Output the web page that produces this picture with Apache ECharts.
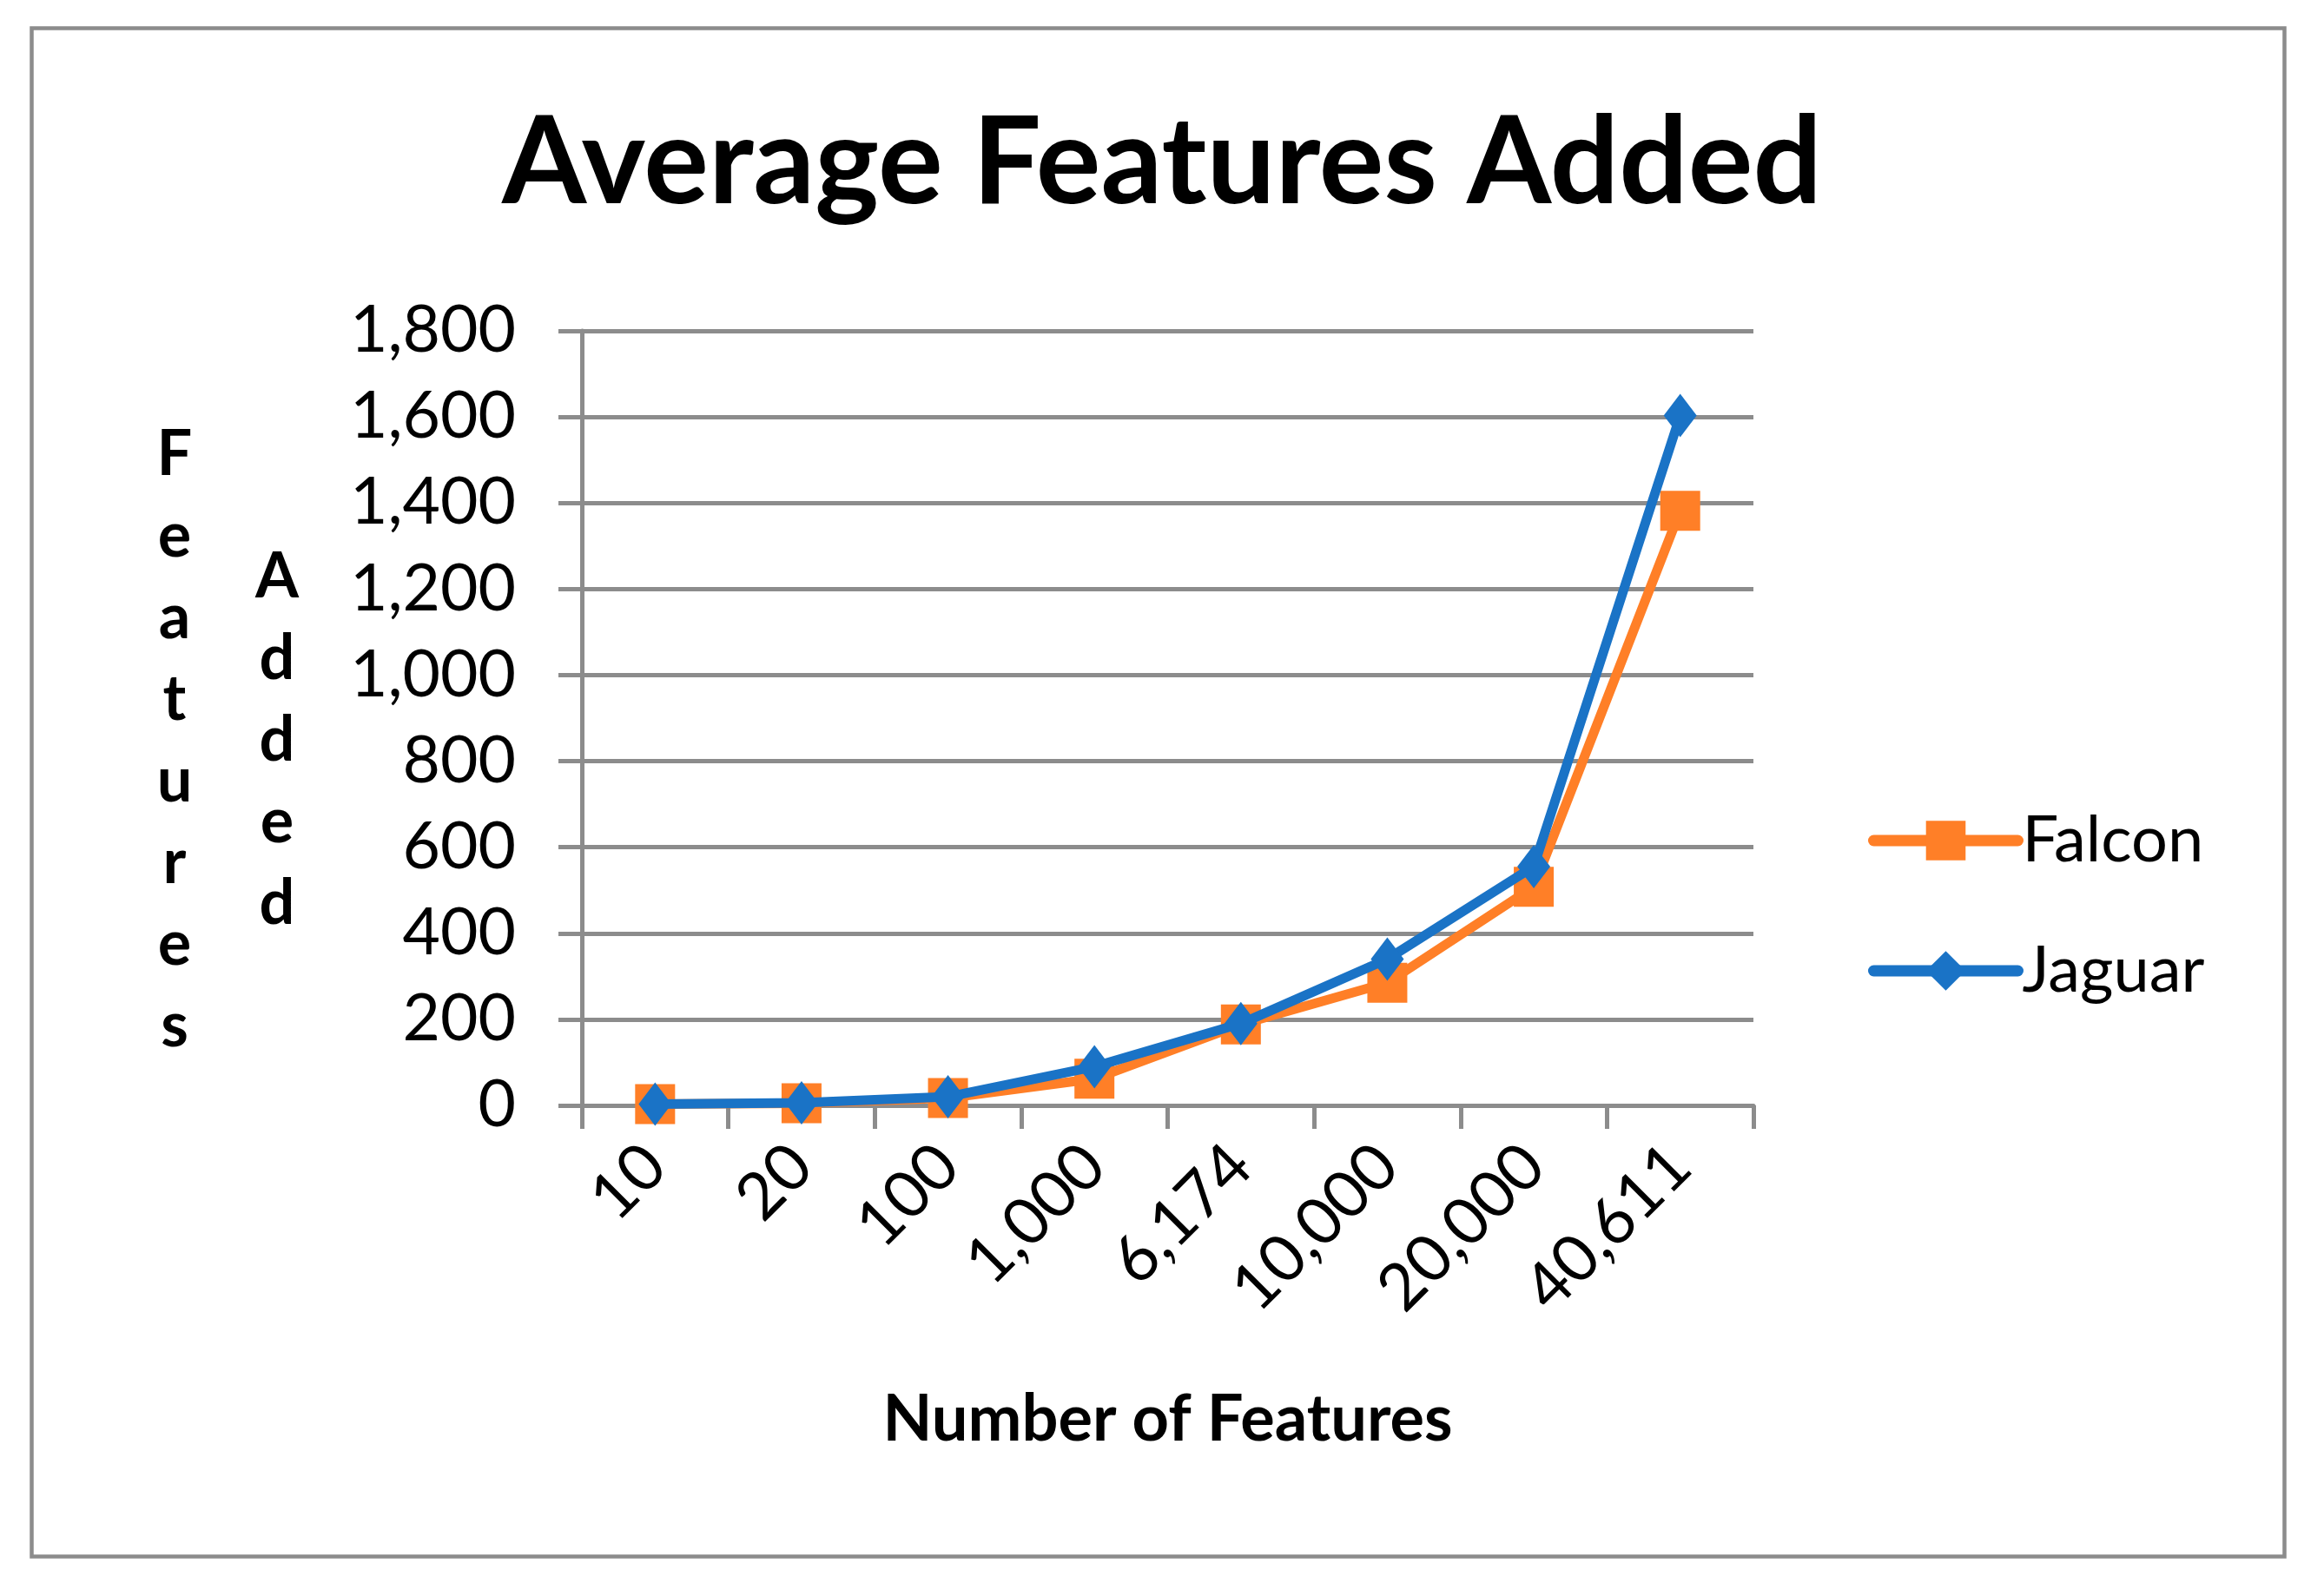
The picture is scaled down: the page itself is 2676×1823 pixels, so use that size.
<!DOCTYPE html>
<html>
<head>
<meta charset="utf-8">
<script src="https://cdn.jsdelivr.net/npm/echarts@6/dist/echarts.min.js"></script>
<style>
html,body{margin:0;padding:0;background:#fff;}
#chart{width:2676px;height:1823px;}
</style>
</head>
<body>
<div id="chart"></div>
<script>
const categories = ["10", "20", "100", "1,000", "6,174", "10,000", "20,000", "40,611"];
const falcon = [3, 5, 17, 62, 188, 285, 508, 1382];
const jaguar = [3, 6, 20, 90, 190, 340, 555, 1603];
const seriesNames = ["Falcon", "Jaguar"];
const titleText = "Average Features Added";
const xAxisTitle = "Number of Features";
const yAxisTitleWords = ["Features", "Added"];

const FONT = "Lato";
const chart = echarts.init(document.getElementById('chart'));
chart.setOption({
  backgroundColor: '#ffffff',
  animation: false,
  title: {
    text: titleText,
    left: 'center',
    top: 114,
    textStyle: { fontFamily: FONT, fontWeight: 'bold', fontSize: 140, color: '#000' }
  },
  legend: {
    orient: 'vertical',
    left: 2146,
    top: 926,
    itemWidth: 166,
    itemHeight: 57,
    itemGap: 76,
    data: seriesNames,
    lineStyle: { width: 13, cap: 'round' },
    textStyle: { fontFamily: FONT, fontSize: 74, color: '#000' }
  },
  grid: { left: 670, right: 657, top: 381, bottom: 550, containLabel: false },
  xAxis: {
    type: 'category',
    data: categories,
    boundaryGap: true,
    name: xAxisTitle,
    nameLocation: 'middle',
    nameGap: 325,
    nameTextStyle: { fontFamily: FONT, fontWeight: 'bold', fontSize: 74, color: '#000' },
    axisLine: { lineStyle: { color: '#8c8c8c', width: 5 } },
    axisTick: { show: true, length: 27, lineStyle: { color: '#8c8c8c', width: 5 } },
    axisLabel: { rotate: 45, margin: 58, fontFamily: FONT, fontSize: 75, color: '#000' },
    splitLine: { show: false }
  },
  yAxis: {
    type: 'value',
    min: 0,
    max: 1800,
    interval: 200,
    axisLine: { show: true, lineStyle: { color: '#8c8c8c', width: 5 } },
    axisTick: { show: true, length: 27, lineStyle: { color: '#8c8c8c', width: 5 } },
    axisLabel: {
      margin: 76, fontFamily: FONT, fontSize: 75, color: '#000',
      formatter: v => v.toLocaleString('en-US')
    },
    splitLine: { lineStyle: { color: '#8c8c8c', width: 5 } }
  },
  graphic: [
    { type: 'rect', shape: { x: 36.5, y: 32.5, width: 2594, height: 1760 }, style: { fill: 'none', stroke: '#8c8c8c', lineWidth: 4.5 }, z: -1 },
    { type: 'text', x: 201, y: 477, style: { text: yAxisTitleWords[0].split('').join('\n'), font: 'bold 72px ' + FONT, lineHeight: 94, fill: '#000', align: 'center', verticalAlign: 'top' } },
    { type: 'text', x: 319, y: 618, style: { text: yAxisTitleWords[1].split('').join('\n'), font: 'bold 72px ' + FONT, lineHeight: 94, fill: '#000', align: 'center', verticalAlign: 'top' } }
  ],
  series: [
    {
      name: seriesNames[0], type: 'line', data: falcon,
      symbol: 'rect', symbolSize: 46,
      lineStyle: { color: '#ff7f27', width: 11, cap: 'round', join: 'round' },
      itemStyle: { color: '#ff7f27' },
      z: 2
    },
    {
      name: seriesNames[1], type: 'line', data: jaguar,
      symbol: 'diamond', symbolSize: [38, 50],
      lineStyle: { color: '#1a73c6', width: 11, cap: 'round', join: 'round' },
      itemStyle: { color: '#1a73c6' },
      z: 3
    }
  ]
});
</script>
</body>
</html>
